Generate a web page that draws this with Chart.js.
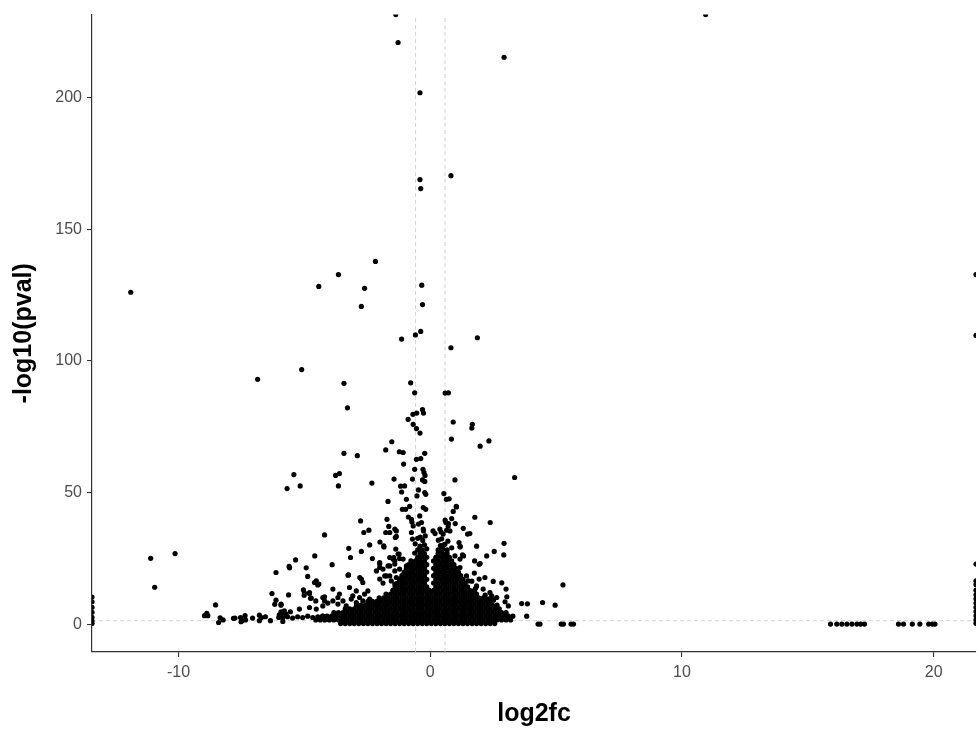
<!DOCTYPE html>
<html>
<head>
<meta charset="utf-8">
<script src="https://cdn.jsdelivr.net/npm/chart.js@4"></script>
<style>
html,body{margin:0;padding:0;background:#fff;}
canvas{display:block;}
</style>
</head>
<body>
<canvas id="c" width="980" height="730"></canvas>
<script>
// ---- axis ranges & ticks ----
const xRange = [-13.44, 21.68];
const yRange = [-10.6, 231.6];
const xTickValues = [-10, 0, 10, 20];
const yTickValues = [0, 50, 100, 150, 200];
const fcThresholds = [-0.585, 0.585];
const pThreshold = [1.301];

// ---- scattered genes (log2fc, -log10 pval) ----
const scatteredGenes = [
[-1.37,231.6],[10.94,231.6],[-1.28,221.0],[2.93,215.4],[-0.41,201.9],[0.82,170.4],[-0.41,168.9],[-0.38,165.5],
[-2.18,137.8],[-3.65,132.8],[-4.43,128.3],[-2.61,127.6],[-0.34,128.8],[-11.9,126.1],[-2.74,120.7],[-0.31,121.4],
[-1.14,108.3],[-0.59,109.9],[-0.38,111.2],[1.87,108.8],[0.82,105.0],[-6.86,93.0],[-5.11,96.7],[-3.43,91.5],
[-3.29,82.2],[-0.78,91.7],[-0.62,87.9],[0.59,87.8],[0.72,87.9],[-0.31,81.5],[-0.27,80.2],[-0.69,79.7],[-0.54,80.2],
[-0.88,77.8],[-0.68,75.9],[-0.55,74.3],[-0.41,72.6],[0.91,76.8],[1.67,75.9],[1.65,74.5],[0.84,70.3],[2.33,69.6],
[1.98,67.6],[-1.53,69.3],[-1.77,66.2],[-1.23,65.5],[-1.08,65.2],[-3.43,64.9],[-2.90,64.0],[-0.22,64.9],
[-0.55,62.6],[-0.38,62.9],[-1.06,60.8],[-0.62,58.8],[-0.29,58.8],[-0.25,57.6],[-0.21,56.5],[-5.42,56.8],
[-3.76,56.5],[-3.61,57.2],[-1.44,55.1],[-0.71,55.1],[-0.31,54.8],[-0.22,54.2],[-5.69,51.5],[-5.17,52.5],
[-3.65,52.5],[-2.32,53.6],[-1.18,52.4],[-1.02,52.5],[0.98,54.8],[3.35,55.7],[-1.14,50.2],[-0.47,51.0],[-0.53,48.7],
[-0.22,50.0],[-0.18,49.3],[0.54,49.6],[0.64,47.4],[0.75,47.6],[1.03,44.7],[0.91,42.8],[1.77,40.6],[2.38,38.6],
[2.93,30.7],[2.92,26.3],[2.54,27.6],[2.24,25.9],[1.84,29.6],[1.98,23.0],[1.57,34.4],[1.48,34.2],[1.31,36.4],
[1.19,29.5],[1.28,26.3],[2.84,15.7],[2.50,16.2],[1.75,19.4],[1.65,16.3],[5.27,14.9],[4.46,8.2],[4.96,7.2],
[3.63,7.8],[3.86,7.7],[3.83,3.0],[4.28,0],[4.36,0],[5.20,0],[5.29,0],[5.59,0],[5.69,0],
[-3.90,22.6],[-4.59,25.9],[-4.20,33.9],[-3.24,28.8],[-3.17,25.3],[-2.77,39.2],[-2.64,34.8],[-2.44,35.7],
[-2.41,30.1],[-2.74,27.6],[-3.25,18.7],[-4.93,21.4],[-4.87,18.1],[-1.68,46.6],[-1.72,39.8],[-1.65,37.1],
[-1.35,35.4],[-1.39,32.9],[-2.0,31.2],[-1.84,29.3],[-1.45,25.3],[-1.22,24.9],[-2.30,24.9],[-2.01,22.8],
[-5.04,13.0],[-4.6,15.8],[-4.47,14.9],[-4.2,10.4],[-11.11,25.0],[-10.14,26.8],[-10.95,14.0],[-5.35,24.4],
[-5.61,21.9],[-5.59,21.4],[-6.13,19.6],[-6.29,11.6],[-6.13,9.1],[-6.18,7.5],[-5.93,7.2],[-5.63,11.1],
[-4.80,11.6],[-4.76,9.8],[-5.01,11.0],[-4.55,8.8],[-8.53,7.3],[-8.97,3.2],[-8.88,4.1],[-8.84,3.2],
[-8.41,0.6],[-8.35,2.4],[-8.23,1.6],[-7.82,2.2],[-7.76,2.3],[-7.54,2.5],[-7.48,1.3],[-7.36,3.2],[-7.34,1.6],
[-7.52,0.9],[-7.06,2.3],[-6.79,3.4],[-6.79,1.3],[-6.71,2.5],[-6.55,2.8],[-6.35,1.3],[-6.0,3.5],[-5.9,4.2],
[-5.86,1.0],[-6.02,2.5],[-5.73,3.8],[-5.56,4.7],
[-0.28,44.3],[-0.18,43.6],[-0.95,47.4],[-0.82,44.7],[-0.98,43.6],[-1.11,43.6],[-1.77,34.8],
[-1.41,36.1],[-1.35,33.3],[-1.61,34.8],[-0.75,39.8],[-0.68,37.3],[-0.75,34.8],[-0.71,32.3],
[-0.42,41.1],[-0.35,38.6],[-0.28,36.1],[0.11,35.4],[0.38,36.1],[0.51,34.2],[0.62,38.6],[0.71,37.3],[0.78,35.4],
[1.04,44.5],[1.94,17.1],[1.51,16.4],[2.17,17.7],[2.64,10.1],[2.97,8.5],[3.1,6.9],[1.18,21.5],[1.44,18.3],
[0.98,25.9],[1.18,24.7],[1.84,14.5],[2.1,13.3],[2.37,12.0],[2.44,10.7],[2.24,9.5],[-1.85,29.7],
[-2.01,23.4],[-1.88,20.9],[-1.81,18.3],[-1.37,28.5],[-1.24,26.6],[-1.48,24.7],[-1.61,22.1],[-1.41,20.2],[-1.61,18.3],
[-3.27,18.6],[-2.74,17.1],[-2.68,15.8],[-2.8,17.7],[-4.53,16.4],[-4.43,15.2],[-5.0,11.8],[-4.8,12.0],[-4.73,9.9],
[-5.93,7.6],[-5.8,5.0],[-5.93,4.7],[-4.27,10.1],[-4.2,8.8],[-3.87,13.3],[-3.61,11.4],[-3.67,10.1],
[-3.21,13.9],[-2.94,12.6],[-3.08,10.7],[-2.81,10.1],[-2.61,11.4],[-2.48,12.6],[-2.41,9.5],[-2.68,8.8],
[-2.01,17.1],[-1.88,15.6],[-1.74,18.3],[-1.55,16.4],[-1.35,17.7],[-1.41,15.2],[-1.22,17.1],[-1.02,15.8],[-0.95,19.0],
[-2.14,20.2],[-2.01,21.5],[-1.68,22.1],[-1.41,22.8],[-1.22,20.9],[-0.95,22.1],
[-1.61,25.3],[-1.28,26.6],[-1.41,24.0],[-1.08,24.7],
[-5.86,2.5],[-5.67,2.8],[-5.47,2.3],[-5.27,2.8],[-5.07,2.5],[-4.87,3.0],[-4.67,2.5],[-4.47,2.8],[-4.27,3.0],[-4.07,2.5],
[-5.2,5.7],[-4.8,6.3],[-4.53,5.7],[-4.27,6.9],[-4.07,8.0],[-3.87,8.8],[-3.67,7.6],[-3.47,8.8],[-3.34,6.9],[-3.14,9.5],[-2.94,8.2],
[1.14,31.0],[1.18,29.3],[1.32,25.9],[1.76,24.0],[1.94,22.7],[1.8,13.6],[2.18,11.0],[2.38,9.8],[2.51,9.1],[3.01,13.3],[3.04,10.4],
[-0.87,40.7],[-0.73,38.8],[-0.47,38.0],[-0.27,35.4],[-0.4,33.1],[0.59,39.5],[0.72,38.2],[0.85,40.1],[0.99,38.2],[0.65,35.7],
[0.43,35.0],[0.19,34.4],[0.32,31.9],[0.52,30.0],[0.39,28.1],
[-0.5,28.2],[-0.32,28.2],[-0.14,28.6],[-0.41,29.6],[-0.23,30.1],[-0.6,30.5],[-0.3,31.8],[-0.5,32.6],[-0.2,33.5],[-0.62,27.0],
[0.31,28.2],[0.49,28.4],[0.67,28.2],[0.40,29.8],[0.58,30.3],[0.85,29.0],[0.7,31.5],[0.45,32.4],
[15.9,0],[16.15,0],[16.35,0],[16.55,0],[16.75,0],[16.95,0],[17.1,0],[17.25,0],
[18.6,0],[18.8,0],[19.15,0],[19.45,0],[19.8,0],[19.95,0],[20.05,0]
];

// ---- genes sitting on the plot edges (clipped by the panel) ----
const leftEdgeFC = -13.44;
const leftEdgeP = [10.3, 8.5, 6.4, 4.5, 2.6, 1.2, 0.2];
const rightEdgeFC = 21.68;
const rightEdgeP = [132.8, 109.7, 22.8, 16.4, 15.0, 12.9, 11.2, 9.6, 8.0, 6.4, 4.8, 3.2, 1.6, 0.3];

// ---- dense core of the volcano, read row by row (-log10 pval level, log2fc values) ----
const coreRowP = [0.2, 1.6, 3.0, 4.4, 5.8, 7.2, 8.6, 10.0, 11.4, 12.8, 14.2, 15.6, 17.0, 18.4, 19.8, 21.2, 22.6, 24.0, 25.4, 26.8];
const coreRowFC = [
[-3.56,-3.38,-3.20,-3.02,-2.84,-2.66,-2.48,-2.30,-2.12,-1.94,-1.76,-1.58,-1.40,-1.22,-1.04,-0.86,-0.68,-0.50,-0.32,-0.14,0.04,0.22,0.40,0.58,0.76,0.94,1.12,1.30,1.48,1.66,1.84,2.02,2.20,2.38,2.56],
[-4.55,-4.37,-4.19,-4.01,-3.83,-3.65,-3.47,-3.29,-3.11,-2.93,-2.75,-2.57,-2.39,-2.21,-2.03,-1.85,-1.67,-1.49,-1.31,-1.13,-0.95,-0.77,-0.59,-0.41,-0.23,-0.05,0.13,0.31,0.49,0.67,0.85,1.03,1.21,1.39,1.57,1.75,1.93,2.11,2.29,2.47,2.65,2.83,3.01,3.19],
[-4.28,-4.10,-3.92,-3.74,-3.56,-3.38,-3.20,-3.02,-2.84,-2.66,-2.48,-2.30,-2.12,-1.94,-1.76,-1.58,-1.40,-1.22,-1.04,-0.86,-0.68,-0.50,-0.32,-0.14,0.04,0.22,0.40,0.58,0.76,0.94,1.12,1.30,1.48,1.66,1.84,2.02,2.20,2.38,2.56,2.74,2.92,3.10,3.28],
[-3.83,-3.65,-3.47,-3.29,-3.11,-2.93,-2.75,-2.57,-2.39,-2.21,-2.03,-1.85,-1.67,-1.49,-1.31,-1.13,-0.95,-0.77,-0.59,-0.41,-0.23,-0.05,0.13,0.31,0.49,0.67,0.85,1.03,1.21,1.39,1.57,1.75,1.93,2.11,2.29,2.47,2.65,2.83,3.01],
[-3.38,-3.20,-3.02,-2.84,-2.66,-2.48,-2.30,-2.12,-1.94,-1.76,-1.58,-1.40,-1.22,-1.04,-0.86,-0.68,-0.50,-0.32,-0.14,0.04,0.22,0.40,0.58,0.76,0.94,1.12,1.30,1.48,1.66,1.84,2.02,2.20,2.38,2.56,2.74],
[-2.93,-2.75,-2.57,-2.39,-2.21,-2.03,-1.85,-1.67,-1.49,-1.31,-1.13,-0.95,-0.77,-0.59,-0.41,-0.23,-0.05,0.13,0.31,0.49,0.67,0.85,1.03,1.21,1.39,1.57,1.75,1.93,2.11,2.29,2.47,2.65],
[-2.48,-2.30,-2.12,-1.94,-1.76,-1.58,-1.40,-1.22,-1.04,-0.86,-0.68,-0.50,-0.32,-0.14,0.04,0.22,0.40,0.58,0.76,0.94,1.12,1.30,1.48,1.66,1.84,2.02,2.20,2.38],
[-2.03,-1.85,-1.67,-1.49,-1.31,-1.13,-0.95,-0.77,-0.59,-0.41,-0.23,-0.05,0.13,0.31,0.49,0.67,0.85,1.03,1.21,1.39,1.57,1.75,1.93,2.11],
[-1.76,-1.58,-1.40,-1.22,-1.04,-0.86,-0.68,-0.50,-0.32,-0.14,0.04,0.22,0.40,0.58,0.76,0.94,1.12,1.30,1.48,1.66,1.84],
[-1.49,-1.31,-1.13,-0.95,-0.77,-0.59,-0.41,-0.23,-0.05,0.13,0.31,0.49,0.67,0.85,1.03,1.21,1.39,1.57,1.75],
[-1.40,-1.22,-1.04,-0.86,-0.68,-0.50,-0.32,-0.14,0.22,0.40,0.58,0.76,0.94,1.12,1.30,1.48],
[-1.31,-1.13,-0.95,-0.77,-0.59,-0.41,-0.23,0.13,0.31,0.49,0.67,0.85,1.03,1.21,1.39],
[-1.22,-1.04,-0.86,-0.68,-0.50,-0.32,-0.14,0.22,0.40,0.58,0.76,0.94,1.12,1.30],
[-1.13,-0.95,-0.77,-0.59,-0.41,-0.23,0.13,0.31,0.49,0.67,0.85,1.03,1.21],
[-1.04,-0.86,-0.68,-0.50,-0.32,-0.14,0.22,0.40,0.58,0.76,0.94,1.12],
[-0.95,-0.77,-0.59,-0.41,-0.23,0.13,0.31,0.49,0.67,0.85,1.03],
[-0.86,-0.68,-0.50,-0.32,-0.14,0.22,0.40,0.58,0.76,0.94],
[-0.77,-0.59,-0.41,-0.23,0.13,0.31,0.49,0.67,0.85],
[-0.50,-0.32,-0.14,0.22,0.40,0.58,0.76],
[-0.41,-0.23,0.31,0.49,0.67]
];

// ---- build point table ----
const points = [];
scatteredGenes.forEach(p => points.push({x: p[0], y: p[1]}));
leftEdgeP.forEach(v => points.push({x: leftEdgeFC, y: v}));
rightEdgeP.forEach(v => points.push({x: rightEdgeFC, y: v}));
coreRowP.forEach((pv, i) => coreRowFC[i].forEach(fc => points.push({x: fc, y: pv})));

const lineStyle = {
  showLine: true, pointRadius: 0, borderColor: '#c8c8c8', borderWidth: 0.8,
  borderDash: [4, 3], order: 2, clip: 0
};
const thresholdSets = [];
fcThresholds.forEach(t => thresholdSets.push(Object.assign({
  data: [{x: t, y: yRange[0]}, {x: t, y: yRange[1]}]
}, lineStyle)));
pThreshold.forEach(t => thresholdSets.push(Object.assign({
  data: [{x: xRange[0], y: t}, {x: xRange[1], y: t}]
}, lineStyle)));

const FONT = "'Liberation Sans', Arial, sans-serif";

new Chart(document.getElementById('c'), {
  type: 'scatter',
  data: {
    datasets: [{
      data: points,
      pointRadius: 2.6,
      pointHoverRadius: 2.6,
      pointBackgroundColor: '#000',
      pointBorderWidth: 0,
      pointStyle: 'circle',
      order: 1,
      clip: 0
    }].concat(thresholdSets)
  },
  options: {
    responsive: false,
    animation: false,
    devicePixelRatio: 1,
    events: [],
    layout: {padding: {top: 14, right: 4, left: 0, bottom: 0}},
    plugins: {legend: {display: false}, tooltip: {enabled: false}},
    scales: {
      x: {
        type: 'linear',
        min: xRange[0], max: xRange[1],
        afterBuildTicks: s => { s.ticks = xTickValues.map(v => ({value: v})); },
        afterFit: s => { s.height = 78; },
        ticks: {color: '#4d4d4d', font: {family: FONT, size: 16}, padding: 6, maxRotation: 0},
        grid: {drawOnChartArea: false, drawTicks: true, tickLength: 5, color: '#333', lineWidth: 1.1},
        border: {display: true, color: '#333', width: 1.2},
        title: {display: true, text: 'log2fc', color: '#000',
                font: {family: FONT, size: 25, weight: 'bold'}, padding: {top: 0, bottom: 1}}
      },
      y: {
        type: 'linear',
        min: yRange[0], max: yRange[1],
        afterBuildTicks: s => { s.ticks = yTickValues.map(v => ({value: v})); },
        afterFit: s => { s.width = 92; },
        ticks: {color: '#4d4d4d', font: {family: FONT, size: 16}, padding: 5},
        grid: {drawOnChartArea: false, drawTicks: true, tickLength: 5, color: '#333', lineWidth: 1.1},
        border: {display: true, color: '#333', width: 1.2},
        title: {display: true, text: '-log10(pval)', color: '#000',
                font: {family: FONT, size: 25, weight: 'bold'}, padding: {top: 9, bottom: 0}}
      }
    }
  }
});
</script>
</body>
</html>
